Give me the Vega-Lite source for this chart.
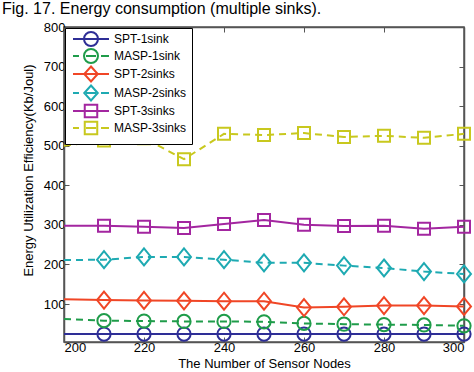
{
  "$schema": "https://vega.github.io/schema/vega-lite/v6.json",
  "width": 400,
  "height": 315,
  "autosize": {"type": "none"},
  "padding": {"left": 64, "top": 27, "right": 10, "bottom": 30},
  "background": "white",
  "title": {
    "text": "Fig. 17. Energy consumption (multiple sinks).",
    "anchor": "start",
    "frame": "group",
    "dx": -62,
    "dy": 18,
    "offset": 9,
    "baseline": "alphabetic",
    "font": "Liberation Sans",
    "fontSize": 16,
    "fontWeight": "normal",
    "color": "black"
  },
  "config": {
    "view": {"stroke": "#555", "strokeWidth": 1.5},
    "axis": {
      "labelFont": "Liberation Sans",
      "labelFontSize": 13,
      "labelColor": "black",
      "titleFont": "Liberation Sans",
      "titleFontSize": 13,
      "titleFontWeight": "normal",
      "titleColor": "black",
      "grid": false,
      "domainColor": "#555",
      "domainWidth": 1.5,
      "tickColor": "#555",
      "tickSize": -5
    }
  },
  "data": {
    "values": [
      {"x": 200, "v": 24, "s": "SPT-1sink"}, {"x": 210, "v": 24, "s": "SPT-1sink"}, {"x": 220, "v": 24, "s": "SPT-1sink"}, {"x": 230, "v": 24, "s": "SPT-1sink"}, {"x": 240, "v": 24, "s": "SPT-1sink"}, {"x": 250, "v": 24, "s": "SPT-1sink"}, {"x": 260, "v": 24, "s": "SPT-1sink"}, {"x": 270, "v": 24, "s": "SPT-1sink"}, {"x": 280, "v": 24, "s": "SPT-1sink"}, {"x": 290, "v": 24, "s": "SPT-1sink"}, {"x": 300, "v": 24, "s": "SPT-1sink"},
      {"x": 200, "v": 62, "s": "MASP-1sink"}, {"x": 210, "v": 58, "s": "MASP-1sink"}, {"x": 220, "v": 57, "s": "MASP-1sink"}, {"x": 230, "v": 56, "s": "MASP-1sink"}, {"x": 240, "v": 56, "s": "MASP-1sink"}, {"x": 250, "v": 55, "s": "MASP-1sink"}, {"x": 260, "v": 51, "s": "MASP-1sink"}, {"x": 270, "v": 49, "s": "MASP-1sink"}, {"x": 280, "v": 48, "s": "MASP-1sink"}, {"x": 290, "v": 47, "s": "MASP-1sink"}, {"x": 300, "v": 45, "s": "MASP-1sink"},
      {"x": 200, "v": 112, "s": "SPT-2sinks"}, {"x": 210, "v": 110, "s": "SPT-2sinks"}, {"x": 220, "v": 109, "s": "SPT-2sinks"}, {"x": 230, "v": 108, "s": "SPT-2sinks"}, {"x": 240, "v": 107, "s": "SPT-2sinks"}, {"x": 250, "v": 107, "s": "SPT-2sinks"}, {"x": 260, "v": 91, "s": "SPT-2sinks"}, {"x": 270, "v": 93, "s": "SPT-2sinks"}, {"x": 280, "v": 96, "s": "SPT-2sinks"}, {"x": 290, "v": 96, "s": "SPT-2sinks"}, {"x": 300, "v": 94, "s": "SPT-2sinks"},
      {"x": 200, "v": 211, "s": "MASP-2sinks"}, {"x": 210, "v": 212, "s": "MASP-2sinks"}, {"x": 220, "v": 219, "s": "MASP-2sinks"}, {"x": 230, "v": 219, "s": "MASP-2sinks"}, {"x": 240, "v": 212, "s": "MASP-2sinks"}, {"x": 250, "v": 204, "s": "MASP-2sinks"}, {"x": 260, "v": 204, "s": "MASP-2sinks"}, {"x": 270, "v": 197, "s": "MASP-2sinks"}, {"x": 280, "v": 191, "s": "MASP-2sinks"}, {"x": 290, "v": 182, "s": "MASP-2sinks"}, {"x": 300, "v": 176, "s": "MASP-2sinks"},
      {"x": 200, "v": 298, "s": "SPT-3sinks"}, {"x": 210, "v": 298, "s": "SPT-3sinks"}, {"x": 220, "v": 295, "s": "SPT-3sinks"}, {"x": 230, "v": 292, "s": "SPT-3sinks"}, {"x": 240, "v": 302, "s": "SPT-3sinks"}, {"x": 250, "v": 312, "s": "SPT-3sinks"}, {"x": 260, "v": 300, "s": "SPT-3sinks"}, {"x": 270, "v": 297, "s": "SPT-3sinks"}, {"x": 280, "v": 298, "s": "SPT-3sinks"}, {"x": 290, "v": 290, "s": "SPT-3sinks"}, {"x": 300, "v": 295, "s": "SPT-3sinks"},
      {"x": 200, "v": 500, "s": "MASP-3sinks"}, {"x": 210, "v": 513, "s": "MASP-3sinks"}, {"x": 220, "v": 519, "s": "MASP-3sinks"}, {"x": 230, "v": 466, "s": "MASP-3sinks"}, {"x": 240, "v": 530, "s": "MASP-3sinks"}, {"x": 250, "v": 527, "s": "MASP-3sinks"}, {"x": 260, "v": 532, "s": "MASP-3sinks"}, {"x": 270, "v": 522, "s": "MASP-3sinks"}, {"x": 280, "v": 525, "s": "MASP-3sinks"}, {"x": 290, "v": 520, "s": "MASP-3sinks"}, {"x": 300, "v": 530, "s": "MASP-3sinks"}
    ]
  },
  "resolve": {"axis": {"x": "independent", "y": "independent"}},
  "layer": [
    {
      "transform": [{"filter": "datum.s === 'SPT-1sink' || datum.s === 'SPT-2sinks' || datum.s === 'SPT-3sinks'"}],
      "mark": {"type": "line", "strokeWidth": 2, "clip": true},
      "encoding": {
        "x": {"field": "x", "type": "quantitative", "scale": {"domain": [200, 300], "nice": false}, "axis": {"values": [200, 220, 240, 260, 280, 300], "title": "The Number of Sensor Nodes", "labelPadding": 4, "titlePadding": 3}},
        "y": {"field": "v", "type": "quantitative", "scale": {"domain": [4, 800], "nice": false, "zero": false}, "axis": {"values": [100, 200, 300, 400, 500, 600, 700, 800], "title": "Energy Utilization Efficiency(Kb/Joul)", "titleY": 143, "labelPadding": 4, "titlePadding": 8}},
        "color": {
          "field": "s", "type": "nominal",
          "scale": {"domain": ["SPT-1sink", "MASP-1sink", "SPT-2sinks", "MASP-2sinks", "SPT-3sinks", "MASP-3sinks"], "range": ["#2e2e96", "#1f9c4a", "#f04626", "#1eaab2", "#a326a0", "#c8c81e"]},
          "legend": {
            "title": null,
            "orient": "top-left",
            "offset": 1,
            "fillColor": "white",
            "strokeColor": "black",
            "padding": 5,
            "labelFont": "Liberation Sans",
            "labelFontSize": 12,
            "labelColor": "black",
            "labelOffset": 32,
            "symbolSize": 100,
            "symbolStrokeWidth": 2,
            "rowPadding": -5,
            "encode": {
              "symbols": {
                "update": {
                  "fill": {"value": "transparent"},
                  "shape": {"signal": "datum.value === 'SPT-1sink' ? 'M-0.6,0L6.6,0M4.4,0A1.4,1.4,0,1,1,1.6,0A1.4,1.4,0,1,1,4.4,0Z' : datum.value === 'MASP-1sink' ? 'M-0.6,0L0.6,0M2,0L4,0M5,0L6.6,0M4.4,0A1.4,1.4,0,1,1,1.6,0A1.4,1.4,0,1,1,4.4,0Z' : datum.value === 'SPT-2sinks' ? 'M-0.6,0L6.6,0M3,-1.5L4.35,0L3,1.5L1.65,0Z' : datum.value === 'MASP-2sinks' ? 'M-0.6,0L0.6,0M2,0L4,0M5,0L6.6,0M3,-1.5L4.35,0L3,1.5L1.65,0Z' : datum.value === 'SPT-3sinks' ? 'M-0.6,0L6.6,0M1.75,-1.25L4.25,-1.25L4.25,1.25L1.75,1.25Z' : 'M-0.6,0L0.6,0M2,0L4,0M5,0L6.6,0M1.75,-1.25L4.25,-1.25L4.25,1.25L1.75,1.25Z'"}
                }
              }
            }
          }
        }
      }
    },
    {
      "transform": [{"filter": "datum.s === 'MASP-1sink' || datum.s === 'MASP-2sinks' || datum.s === 'MASP-3sinks'"}],
      "mark": {"type": "line", "strokeWidth": 2, "strokeDash": [7, 5], "clip": true},
      "encoding": {
        "x": {"field": "x", "type": "quantitative", "axis": null},
        "y": {"field": "v", "type": "quantitative", "axis": null},
        "color": {"field": "s", "type": "nominal", "legend": null}
      }
    },
    {
      "transform": [{"filter": "datum.x > 200 && (datum.s === 'SPT-1sink' || datum.s === 'MASP-1sink')"}],
      "mark": {"type": "point", "shape": "circle", "filled": false, "strokeWidth": 2, "size": 175, "opacity": 1, "clip": false},
      "encoding": {
        "x": {"field": "x", "type": "quantitative", "axis": {"orient": "top", "values": [200, 220, 240, 260, 280, 300], "labels": false, "title": null}},
        "y": {"field": "v", "type": "quantitative", "axis": {"orient": "right", "values": [100, 200, 300, 400, 500, 600, 700, 800], "labels": false, "title": null}},
        "color": {"field": "s", "type": "nominal", "legend": null}
      }
    },
    {
      "transform": [{"filter": "datum.x > 200 && (datum.s === 'SPT-2sinks' || datum.s === 'MASP-2sinks')"}],
      "mark": {"type": "point", "shape": "M0,-1L0.82,0L0,1L-0.82,0Z", "filled": false, "strokeWidth": 2, "size": 289, "opacity": 1, "clip": false},
      "encoding": {
        "x": {"field": "x", "type": "quantitative", "axis": null},
        "y": {"field": "v", "type": "quantitative", "axis": null},
        "color": {"field": "s", "type": "nominal", "legend": null}
      }
    },
    {
      "transform": [{"filter": "datum.x > 200 && (datum.s === 'SPT-3sinks' || datum.s === 'MASP-3sinks')"}],
      "mark": {"type": "point", "shape": "square", "filled": false, "strokeWidth": 2, "size": 144, "opacity": 1, "clip": false},
      "encoding": {
        "x": {"field": "x", "type": "quantitative", "axis": null},
        "y": {"field": "v", "type": "quantitative", "axis": null},
        "color": {"field": "s", "type": "nominal", "legend": null}
      }
    }
  ]
}
